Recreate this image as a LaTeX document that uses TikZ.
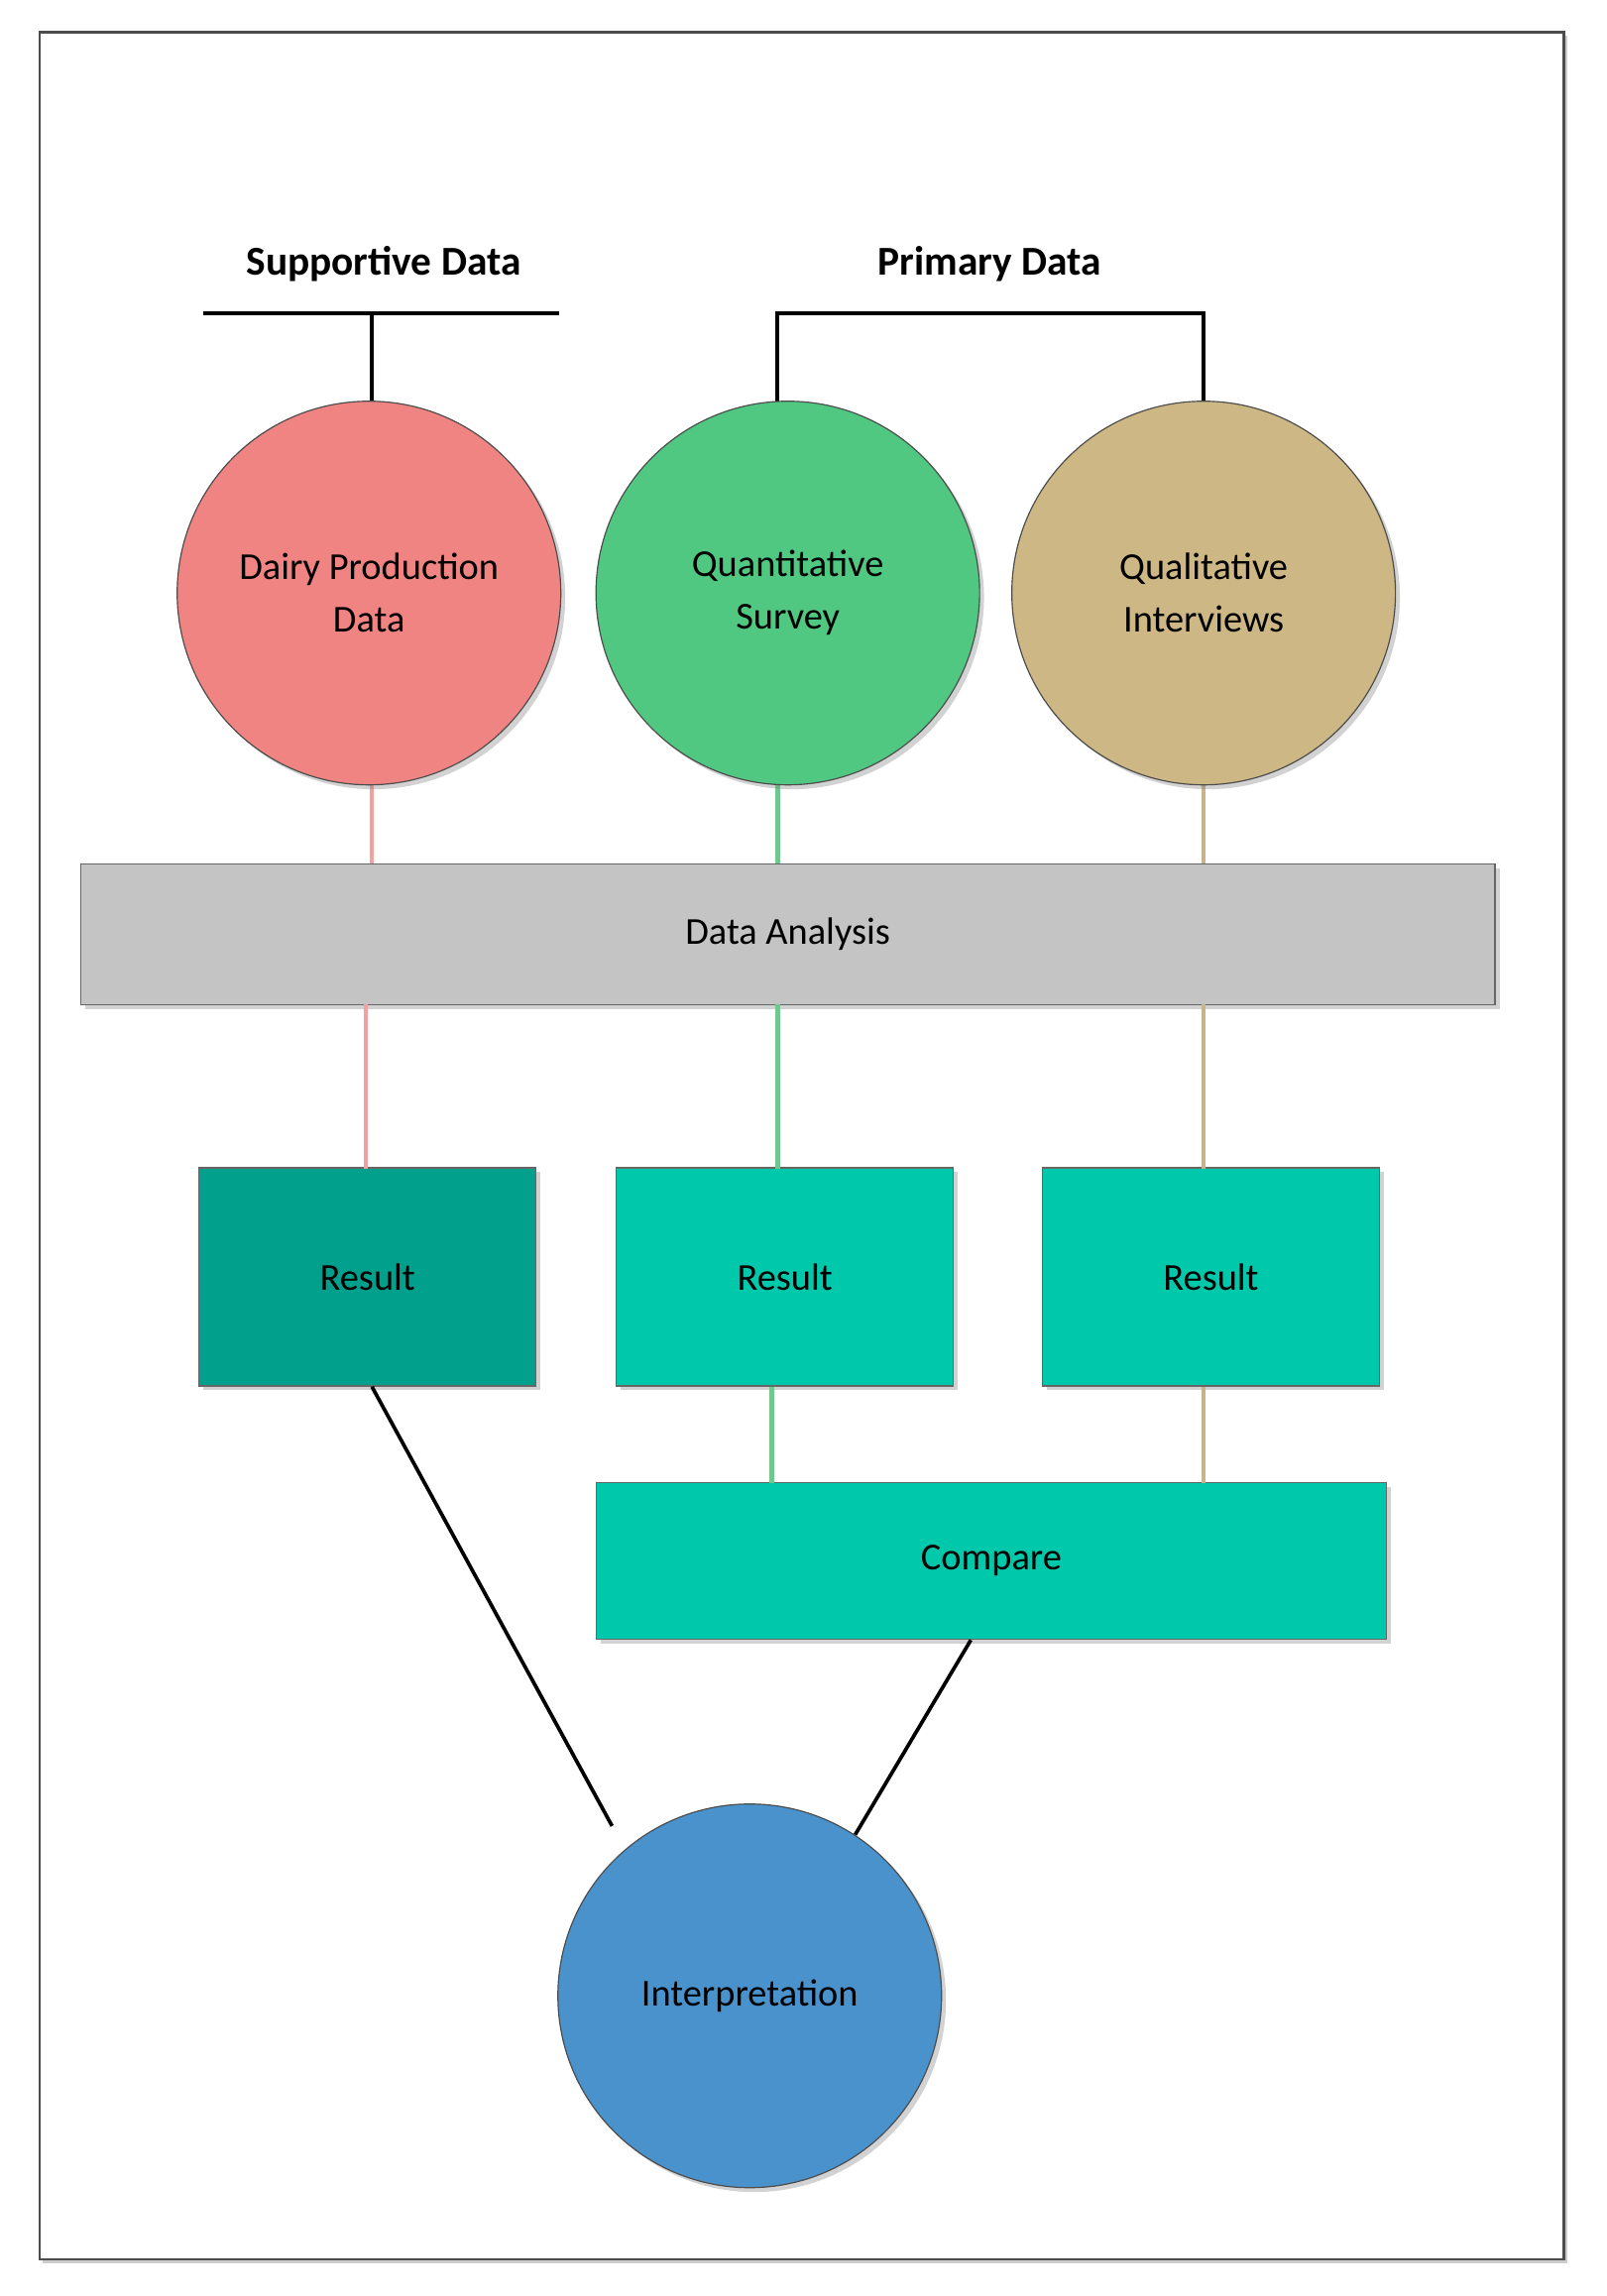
\documentclass[tikz,border=0pt]{standalone}
\usepackage{fontspec}
\setmainfont{Carlito}
\usetikzlibrary{shadows}
\definecolor{cred}{HTML}{F08482}
\definecolor{lred}{HTML}{F4A0A0}
\definecolor{cgreen}{HTML}{50C882}
\definecolor{lgreen}{HTML}{70C890}
\definecolor{ctan}{HTML}{CDB784}
\definecolor{ltan}{HTML}{C8B488}
\definecolor{cgray}{HTML}{C4C4C4}
\definecolor{tdark}{HTML}{00A08C}
\definecolor{tlight}{HTML}{00C8AA}
\definecolor{cblue}{HTML}{4A92CC}
\begin{document}
\begin{tikzpicture}[x=1pt,y=-1pt,
  font=\fontsize{26}{36}\selectfont,
  circ/.style={circle,draw=black!70,line width=0.8pt,minimum size=262pt,inner sep=0pt,align=center,drop shadow={opacity=0.35,shadow xshift=3pt,shadow yshift=-3pt}},
  box/.style={rectangle,draw=black!60,line width=0.8pt,inner sep=0pt,drop shadow={opacity=0.35,shadow xshift=3pt,shadow yshift=-3pt}},
  conn/.style={line width=3pt},
  blk/.style={line width=2.5pt,black}]
\useasboundingbox (0,0) rectangle (1097,1568);
\fill[white] (0,0) rectangle (1097,1568);
\node[draw=black!70,fill=white,line width=1.5pt,minimum width=1041pt,minimum height=1521pt,inner sep=0pt,drop shadow={opacity=0.4}] (frame) at (547.5,782.5) {};
% headers
\node[font=\fontsize{28}{34}\selectfont\bfseries] (sup) at (262,180) {Supportive Data};
\node[font=\fontsize{28}{34}\selectfont\bfseries] (pri) at (676,180) {Primary Data};
\coordinate (sl) at (139,214); \coordinate (sr) at (382,214); \coordinate (sm) at (254,214);
\coordinate (pl) at (531,214); \coordinate (pr) at (822,214);
\draw[blk] (sl) -- (sr);
\draw[blk] (sm) -- (254,278);
\draw[blk] (531,278) -- (pl) -- (pr) -- (822,278);
% nodes
\node[box,fill=cgray,minimum width=966pt,minimum height=96pt] (da) at (538,638) {Data Analysis};
\node[box,fill=tdark,minimum width=230pt,minimum height=149pt] (r1) at (251,872) {Result};
\node[box,fill=tlight,minimum width=230pt,minimum height=149pt] (r2) at (536,872) {Result};
\node[box,fill=tlight,minimum width=230pt,minimum height=149pt] (r3) at (827,872) {Result};
\node[box,fill=tlight,minimum width=540pt,minimum height=107pt] (cmp) at (677,1066) {Compare};
% connectors
\draw[conn,lred] (254,536) -- (254,590);
\draw[conn,lgreen] (531,536) -- (531,590);
\draw[conn,ltan] (822,536) -- (822,590);
\draw[conn,lred] (250,686) -- (250,798);
\draw[conn,lgreen] (531,686) -- (531,798);
\draw[conn,ltan] (822,686) -- (822,798);
\draw[conn,lgreen] (527,947) -- (527,1013);
\draw[conn,ltan] (822,947) -- (822,1013);
\draw[blk] (254,947) -- (418,1247);
\draw[blk] (663,1120) -- (584,1253);
\node[circ,fill=cred] (dp) at (252,405) {Dairy Production\\Data};
\node[circ,fill=cgreen] (qs) at (538,405) {Quantitative\\Survey};
\node[circ,fill=ctan] (qi) at (822,405) {Qualitative\\Interviews};
\node[circ,fill=cblue] (int) at (512,1363) {Interpretation};
\end{tikzpicture}
\end{document}
